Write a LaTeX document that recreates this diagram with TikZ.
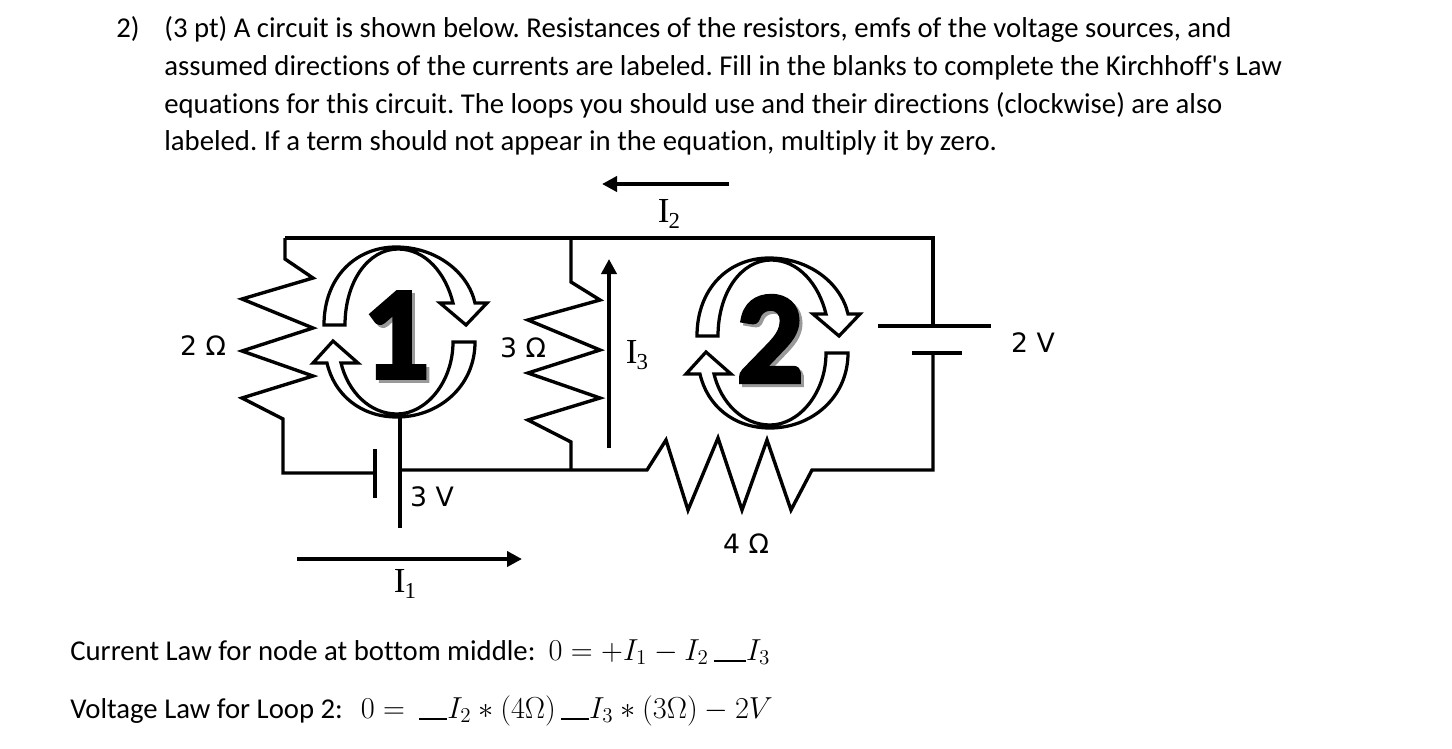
\documentclass[tikz,border=0pt]{standalone}
\usepackage{fontspec}
\defaultfontfeatures[\rmfamily]{}
\setmainfont[Ligatures=NoCommon]{Carlito}
\newfontfamily\valuefont{DejaVu Sans}
\newfontfamily\serieffont{Liberation Serif}
\newfontfamily\digitfont[BoldFeatures={FakeBold=3}]{Carlito}
\usetikzlibrary{arrows.meta}
\newcommand{\curname}[1]{I\kern-0.5pt\raisebox{-3.5pt}{\fontsize{13}{14}\selectfont #1}}
\newcommand{\eqsize}{\fontsize{18}{20}\selectfont}
\tikzset{wire/.style = {line width = 0.068cm, line join = miter}}
\tikzset{current/.style = {line width = 0.09cm, -{Triangle[width = 0.3cm, length = 0.3cm]}}}
\tikzset{prose/.style = {anchor = base west, inner sep = 0, font = \fontsize{16.35}{19}\selectfont\frenchspacing}}
\tikzset{vallabel/.style = {inner sep = 0, font = \fontsize{15.2}{18}\valuefont}}
\tikzset{curlabel/.style = {inner sep = 0, font = \fontsize{20}{23}\serieffont}}
\tikzset{digit/.style = {inner sep = 0, font = \fontsize{75}{80}\digitfont\bfseries}}
\tikzset{loopmark/.pic = {
  \draw [line width = 0.065cm, fill = white, line join = miter]
    (-74, -7) .. controls (-74, -55) and (-42, -85) .. (-2, -85)
    .. controls (38, -85) and (70, -60) .. (77, -29)
    -- (89, -29) -- (68, -7) -- (42, -29) -- (55, -29)
    .. controls (48, -58) and (28, -83) .. (0, -83)
    .. controls (-30, -83) and (-53, -50) .. (-53, -7) -- cycle;
  \draw [line width = 0.065cm, fill = white, line join = miter]
    (77, 10) .. controls (77, 55) and (40, 85) .. (-1, 85)
    .. controls (-38, 85) and (-64, 62) .. (-71, 31)
    -- (-85, 31) -- (-65, 9) -- (-40, 31) -- (-57, 31)
    .. controls (-50, 60) and (-28, 82) .. (-1, 82)
    .. controls (28, 82) and (55, 50) .. (55, 10) -- cycle;
}}
\begin{document}
\begin{tikzpicture}[x = 0.02cm, y = -0.02cm]
  \useasboundingbox (0, 0) rectangle (1452, 748);

  \node [prose] (num) at (116, 37) {2)};
  \node [prose] (lineA) at (164, 37) {(3 pt) A circuit is shown below. Resistances of the resistors, emfs of the voltage sources, and};
  \node [prose] (lineB) at (164, 75) {assumed directions of the currents are labeled. Fill in the blanks to complete the Kirchhoff's Law};
  \node [prose] (lineC) at (164, 113) {equations for this circuit. The loops you should use and their directions (clockwise) are also};
  \node [prose] (lineD) at (164, 150) {labeled. If a term should not appear in the equation, multiply it by zero.};

  \coordinate (topleft) at (285, 238);
  \coordinate (topmid) at (571, 238);
  \coordinate (topright) at (933, 238);
  \coordinate (botleft) at (283, 473);
  \coordinate (botcell) at (400, 470);
  \coordinate (botmid) at (571, 470);
  \coordinate (botright) at (933, 470);

  \draw [wire] (topleft) -- (topright) -- (933, 326);
  \draw [wire] (topleft) -- (285, 259) -- (313, 278) -- (242, 299) -- (313, 328)
    -- (242, 351) -- (313, 376) -- (242, 398) -- (283, 419) -- (botleft) -- (375, 473);
  \draw [wire] (topmid) -- (571, 282) -- (600, 300) -- (528, 320) -- (600, 350)
    -- (528, 373) -- (600, 398) -- (528, 420) -- (571, 442) -- (botmid);
  \draw [wire] (botcell) -- (647, 470) -- (666, 440) -- (688, 510) -- (718, 438)
    -- (742, 510) -- (767, 440) -- (791, 510) -- (812, 470) -- (botright) -- (933, 353);
  \draw [wire] (375, 449) -- (375, 498);
  \draw [wire] (400, 417) -- (400, 528);
  \draw [wire] (878, 326) -- (991, 326);
  \draw [wire] (912, 353) -- (962, 353);

  \coordinate (arrAs) at (297, 559);
  \coordinate (arrAe) at (522, 559);
  \coordinate (arrBs) at (729, 184);
  \coordinate (arrBe) at (602, 184);
  \coordinate (arrCs) at (609, 448);
  \coordinate (arrCe) at (609, 259);
  \draw [current] (arrAs) -- (arrAe);
  \draw [current] (arrBs) -- (arrBe);
  \draw [current] (arrCs) -- (arrCe);

  \pic at (398, 332) {loopmark};
  \pic at (771, 343) {loopmark};
  \node [digit, text = black!40] (oneshade) at (399, 338) {1};
  \node [digit] (one) at (396, 335) {1};
  \node [digit, text = black!40] (twoshade) at (773, 342) {2};
  \node [digit] (two) at (770, 339) {2};

  \node [vallabel] (ohmA) at (203, 346) {2 Ω};
  \node [vallabel] (ohmB) at (523, 348) {3 Ω};
  \node [vallabel] (ohmC) at (746, 544) {4 Ω};
  \node [vallabel] (voltA) at (432, 497) {3 V};
  \node [vallabel] (voltB) at (1033, 343) {2 V};
  \node [curlabel] (curA) at (405, 584) {\curname{1}};
  \node [curlabel] (curB) at (669, 214) {\curname{2}};
  \node [curlabel] (curC) at (637, 355) {\curname{3}};

  \node [prose] (lawA) at (70, 660) {Current Law for node at bottom middle:\ \ {\eqsize$0 = +I_1 - I_2$\,\rule[-1pt]{0.64cm}{0.035cm}$I_3$}};
  \node [prose] (lawB) at (70, 718) {Voltage Law for Loop 2:\ \,\ {\eqsize$0 =$\ \ \rule[-1pt]{0.56cm}{0.035cm}$I_2 * (4\Omega)$\,\rule[-1pt]{0.56cm}{0.035cm}$I_3 * (3\Omega) - 2V$}};
\end{tikzpicture}
\end{document}
